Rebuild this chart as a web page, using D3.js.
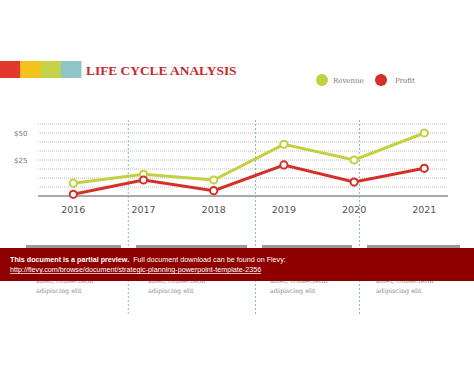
<!DOCTYPE html>
<meta charset="utf-8">
<style>
  body { margin: 0; background: #fff; }
  svg { display: block; }
</style>
<script src="https://d3js.org/d3.v7.min.js"></script>
<div id="chart"></div>
<script>
  // data
  var years = ["2016", "2017", "2018", "2019", "2020", "2021"];
  var revenue = [3.5, 11.8, 6.5, 39.5, 25, 50];
  var profit = [-6.8, 6.5, -3.4, 20.4, 4.6, 17.3];
  var yTicks = [25, 50];
  var blockColors = ["#e2392f", "#f4c21c", "#c6d24a", "#8fc4c9"];
  var notes = ["adipiscing elit", "adipiscing elit", "adipiscing elit", "adipiscing elit"];

  var width = 474, height = 366;
  var green = "#c3d03f", red = "#d42f29";

  var svg = d3.select("#chart").append("svg")
    .attr("width", width)
    .attr("height", height);

  // header colour blocks
  var bx = d3.scaleBand().domain(d3.range(blockColors.length)).range([0, 81]);
  svg.selectAll("rect.block").data(blockColors).enter().append("rect")
    .attr("x", function (d, i) { return bx(i); })
    .attr("y", 61)
    .attr("width", bx.bandwidth() + 0.5)
    .attr("height", 17)
    .attr("fill", function (d) { return d; });

  svg.append("text")
    .attr("x", 86).attr("y", 75)
    .style("font-family", "'Liberation Serif', serif")
    .style("font-weight", "bold")
    .style("font-size", "13.4px")
    .attr("fill", "#c8282a")
    .text("LIFE CYCLE ANALYSIS");

  // legend
  var legend = [{ name: "Revenue", color: green, x: 322 }, { name: "Profit", color: red, x: 381 }];
  var lg = svg.selectAll("g.legend").data(legend).enter().append("g")
    .attr("transform", function (d) { return "translate(" + d.x + ",80)"; });
  lg.append("circle").attr("r", 6).attr("fill", function (d) { return d.color; });
  lg.append("text")
    .attr("x", function (d, i) { return i ? 14 : 11; }).attr("y", 3)
    .style("font-family", "'DejaVu Serif', serif")
    .style("font-size", "7px")
    .attr("fill", "#777")
    .text(function (d) { return d.name; });

  // scales
  var x = d3.scalePoint().domain(years).range([73.3, 424.3]);
  var y = d3.scaleLinear().domain([0, 50]).range([187, 133]);

  // gridlines
  var gridVals = d3.range(-1, 8).map(function (k) { return k * 25 / 3; });
  svg.selectAll("line.grid").data(gridVals.slice(1)).enter().append("line")
    .attr("x1", 38).attr("x2", 448)
    .attr("y1", function (d) { return y(d); })
    .attr("y2", function (d) { return y(d); })
    .attr("stroke", "#bcbcbc")
    .attr("stroke-width", 1)
    .attr("stroke-dasharray", "1,1");
  svg.append("line")
    .attr("x1", 38).attr("x2", 448)
    .attr("y1", y(gridVals[0])).attr("y2", y(gridVals[0]))
    .attr("stroke", "#555").attr("stroke-width", 1);

  // y labels
  svg.selectAll("text.ylab").data(yTicks).enter().append("text")
    .attr("x", 14)
    .attr("y", function (d) { return y(d) + 2.5; })
    .style("font-family", "'DejaVu Sans', sans-serif")
    .style("font-size", "7px")
    .attr("fill", "#777")
    .text(function (d) { return "$" + d; });

  // vertical dashed separators
  var seps = [128.3, 255.5, 359.5];
  svg.selectAll("line.sep").data(seps).enter().append("line")
    .attr("x1", function (d) { return d; }).attr("x2", function (d) { return d; })
    .attr("y1", 120).attr("y2", 316)
    .attr("stroke", "#8fb9c1")
    .attr("stroke-width", 1)
    .attr("stroke-dasharray", "2,2");

  // x labels
  svg.selectAll("text.xlab").data(years).enter().append("text")
    .attr("x", function (d) { return x(d); })
    .attr("y", 213)
    .attr("text-anchor", "middle")
    .style("font-family", "'DejaVu Sans', sans-serif")
    .style("font-size", "9.5px")
    .attr("fill", "#555")
    .text(function (d) { return d; });

  // lines
  var series = [{ vals: revenue, color: green }, { vals: profit, color: red }];
  var line = d3.line()
    .x(function (d, i) { return x(years[i]); })
    .y(function (d) { return y(d); });
  series.forEach(function (s) {
    svg.append("path")
      .attr("d", line(s.vals))
      .attr("fill", "none")
      .attr("stroke", s.color)
      .attr("stroke-width", 3);
    svg.selectAll(null).data(s.vals).enter().append("circle")
      .attr("cx", function (d, i) { return x(years[i]); })
      .attr("cy", function (d) { return y(d); })
      .attr("r", 3.6)
      .attr("fill", "#fff")
      .attr("stroke", s.color)
      .attr("stroke-width", 2);
  });

  // grey card headers (mostly hidden by banner)
  var cards = [[26, 121], [136, 247], [262, 352], [367, 460]];
  svg.selectAll("rect.card").data(cards).enter().append("rect")
    .attr("x", function (d) { return d[0]; })
    .attr("y", 245)
    .attr("width", function (d) { return d[1] - d[0]; })
    .attr("height", 4)
    .attr("fill", "#9a9a9a");

  // card text
  var noteX = [36, 148, 270, 376];
  notes.forEach(function (n, i) {
    svg.append("text")
      .attr("x", noteX[i]).attr("y", 283)
      .style("font-family", "'DejaVu Serif', serif")
      .style("font-size", "6.4px")
      .attr("fill", "#8a8a8a")
      .text("amet, consectetur");
    svg.append("text")
      .attr("x", noteX[i]).attr("y", 292.5)
      .style("font-family", "'DejaVu Serif', serif")
      .style("font-size", "6.4px")
      .attr("fill", "#8a8a8a")
      .text(n);
  });

  // preview banner
  svg.append("rect")
    .attr("x", 0).attr("y", 248)
    .attr("width", width).attr("height", 33)
    .attr("fill", "#8e0000");
  var t1 = svg.append("text")
    .attr("x", 10).attr("y", 262)
    .style("font-family", "'Liberation Sans', Arial, sans-serif")
    .style("font-size", "7.2px")
    .attr("fill", "#fff");
  t1.append("tspan").style("font-weight", "bold").text("This document is a partial preview.");
  t1.append("tspan").text("\u00a0 Full document download can be found on Flevy:");
  svg.append("text")
    .attr("x", 10).attr("y", 272)
    .style("font-family", "'Liberation Sans', Arial, sans-serif")
    .style("font-size", "7.2px")
    .style("text-decoration", "underline")
    .attr("fill", "#fff")
    .text("http://flevy.com/browse/document/strategic-planning-powerpoint-template-2356");
</script>
